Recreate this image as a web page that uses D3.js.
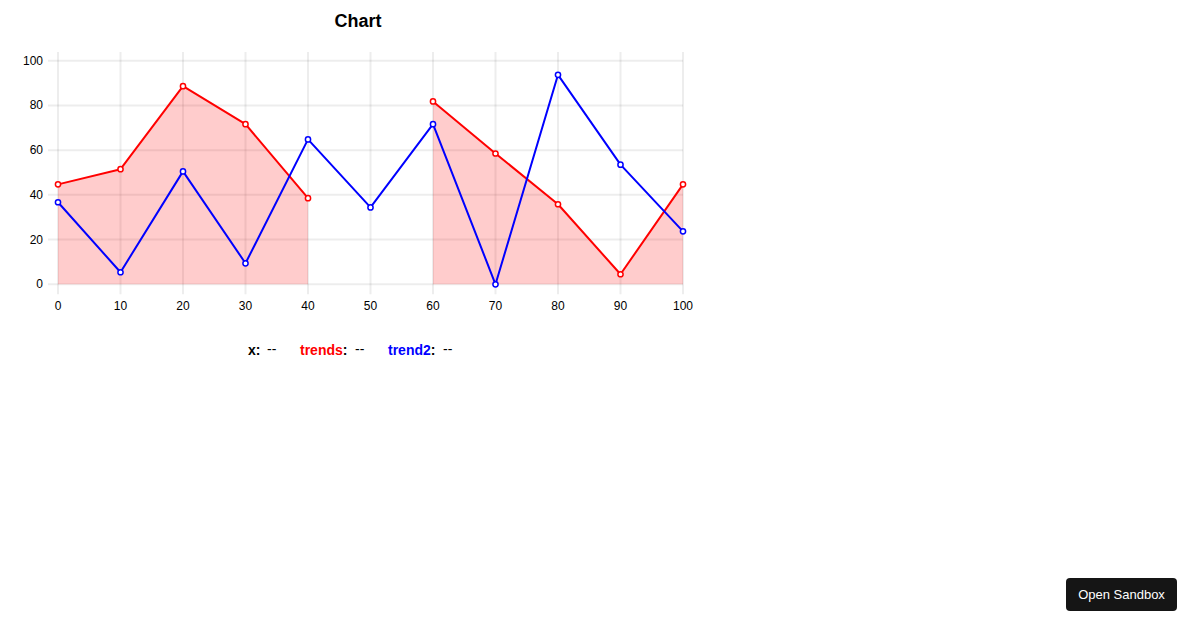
<!DOCTYPE html>
<html><head><meta charset="utf-8">
<script src="https://cdn.jsdelivr.net/npm/d3@7"></script>
<style>
html,body{margin:0;padding:0;background:#fff;width:1200px;height:630px;overflow:hidden;font-family:"Liberation Sans",Arial,Helvetica,sans-serif;}
#btn{position:absolute;left:1066px;top:578px;width:111px;height:33px;background:#151515;color:#fff;border-radius:4px;font:13px "Liberation Sans",Arial,sans-serif;display:flex;align-items:center;justify-content:center;}
</style></head>
<body>
<svg id="chart" width="1200" height="630" style="position:absolute;left:0;top:0"></svg>
<div id="btn">Open Sandbox</div>
<script>
const xValues = [0, 10, 20, 30, 40, 50, 60, 70, 80, 90, 100];
const trends  = [44.7, 51.5, 88.6, 71.6, 38.5, null, 81.8, 58.5, 35.8, 4.5, 44.7];
const trend2  = [36.7, 5.4, 50.5, 9.4, 64.8, 34.4, 71.6, 0, 93.7, 53.5, 23.7];
const yTicks  = [0, 20, 40, 60, 80, 100];
const xTicks  = [0, 10, 20, 30, 40, 50, 60, 70, 80, 90, 100];
const seriesNames = ["trends", "trend2"];
const seriesColors = ["red", "blue"];

const svg = d3.select("#chart");
const pLeft = 58, pRight = 683, pTop = 52, pBottom = 284.3;
const x = d3.scaleLinear().domain([0, 100]).range([pLeft, pRight]);
const y = d3.scaleLinear().domain([0, 103.9]).range([pBottom, pTop]);

// title
svg.append("text").attr("x", 358).attr("y", 27).attr("text-anchor", "middle")
  .attr("font-size", 18).attr("font-weight", "bold").attr("fill", "#000").text("Chart");

// grid
const grid = svg.append("g").attr("stroke", "rgba(0,0,0,0.07)").attr("stroke-width", 2);
yTicks.forEach(t => grid.append("line").attr("x1", pLeft - 10).attr("x2", pRight).attr("y1", y(t)).attr("y2", y(t)));
xTicks.forEach(t => grid.append("line").attr("x1", x(t)).attr("x2", x(t)).attr("y1", pTop).attr("y2", pBottom + 10));

// axis labels
svg.append("g").selectAll("text").data(yTicks).join("text")
  .attr("x", 43).attr("y", d => y(d) + 4).attr("text-anchor", "end")
  .attr("font-size", 12).attr("fill", "#000").text(d => d);
svg.append("g").selectAll("text").data(xTicks).join("text")
  .attr("x", d => x(d)).attr("y", 310).attr("text-anchor", "middle")
  .attr("font-size", 12).attr("fill", "#000").text(d => d);

// area for trends
const pts1 = xValues.map((v, i) => [v, trends[i]]);
const pts2 = xValues.map((v, i) => [v, trend2[i]]);
const area = d3.area().defined(d => d[1] != null).x(d => x(d[0])).y0(y(0)).y1(d => y(d[1]));
svg.append("path").datum(pts1).attr("d", area).attr("fill", "rgba(255,0,0,0.2)");

const line = d3.line().defined(d => d[1] != null).x(d => x(d[0])).y(d => y(d[1]));
[pts1, pts2].forEach((pts, k) => {
  svg.append("path").datum(pts).attr("d", line).attr("fill", "none")
    .attr("stroke", seriesColors[k]).attr("stroke-width", 2).attr("stroke-linejoin", "round");
});
[pts1, pts2].forEach((pts, k) => {
  svg.append("g").selectAll("circle").data(pts.filter(d => d[1] != null)).join("circle")
    .attr("cx", d => x(d[0])).attr("cy", d => y(d[1])).attr("r", 2.6)
    .attr("fill", "#fff").attr("stroke", seriesColors[k]).attr("stroke-width", 1.5);
});

// legend
const lg = svg.append("g").attr("font-size", 14);
function legendItem(lx, name, color) {
  const t = lg.append("text").attr("x", lx).attr("y", 355).attr("font-weight", "bold");
  t.append("tspan").attr("fill", color).text(name);
  t.append("tspan").attr("fill", "#000").text(":");
}
legendItem(248, "x", "#000");
lg.append("text").attr("x", 267).attr("y", 354).attr("fill", "#000").text("--");
legendItem(300, seriesNames[0], seriesColors[0]);
lg.append("text").attr("x", 355).attr("y", 354).attr("fill", "#000").text("--");
legendItem(388, seriesNames[1], seriesColors[1]);
lg.append("text").attr("x", 443).attr("y", 354).attr("fill", "#000").text("--");
</script>
</body></html>
